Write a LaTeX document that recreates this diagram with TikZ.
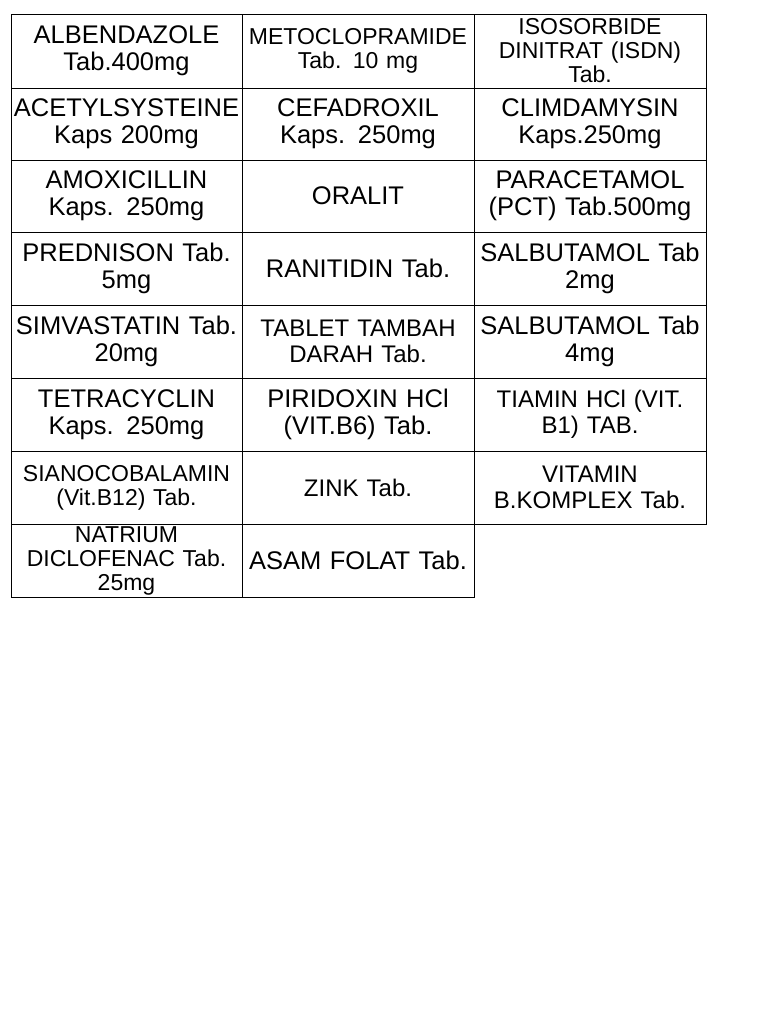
\documentclass[tikz,border=0pt]{standalone}
\usepackage{fontspec}
\setmainfont{Liberation Sans}
\begin{document}
\begin{tikzpicture}[x=1pt,y=-1pt,
  cellbox/.style={inner sep=0pt,align=center,text width=232pt,
    font=\fontsize{25.5}{27}\selectfont},
  small/.style={font=\fontsize{23}{24}\selectfont},
  mid/.style={font=\fontsize{24}{26}\selectfont}]
\useasboundingbox (0,0) rectangle (768,1024);
\def\cell#1#2#3#4#5#6#7{% name, x0,y0,x1,y1, style, text
  \path[draw=black,line width=0.8pt] (#2,#3) rectangle (#4,#5);
  \node[cellbox,#6] (#1) at ({(#2+#4)/2},{(#3+#5)/2}) {#7};}
\cell{a1}{11}{14}{242}{88}{}{ALBENDAZOLE\\Tab.400mg}
\cell{b1}{242}{14}{474}{88}{small}{METOCLOPRAMIDE\\Tab. 10 mg}
\cell{c1}{474}{14}{706}{88}{small}{ISOSORBIDE\\DINITRAT (ISDN)\\Tab.}
\cell{a2}{11}{88}{242}{160}{}{ACETYLSYSTEINE\\Kaps 200mg}
\cell{b2}{242}{88}{474}{160}{}{CEFADROXIL\\Kaps. 250mg}
\cell{c2}{474}{88}{706}{160}{}{CLIMDAMYSIN\\Kaps.250mg}
\cell{a3}{11}{160}{242}{232}{}{AMOXICILLIN\\Kaps. 250mg}
\cell{b3}{242}{160}{474}{232}{}{ORALIT}
\cell{c3}{474}{160}{706}{232}{}{PARACETAMOL\\(PCT) Tab.500mg}
\cell{a4}{11}{232}{242}{305}{}{PREDNISON Tab.\\5mg}
\cell{b4}{242}{232}{474}{305}{}{RANITIDIN Tab.}
\cell{c4}{474}{232}{706}{305}{}{SALBUTAMOL Tab\\2mg}
\cell{a5}{11}{305}{242}{378}{}{SIMVASTATIN Tab.\\20mg}
\cell{b5}{242}{305}{474}{378}{mid}{TABLET TAMBAH\\DARAH Tab.}
\cell{c5}{474}{305}{706}{378}{}{SALBUTAMOL Tab\\4mg}
\cell{a6}{11}{378}{242}{451}{}{TETRACYCLIN\\Kaps. 250mg}
\cell{b6}{242}{378}{474}{451}{}{PIRIDOXIN HCl\\(VIT.B6) Tab.}
\cell{c6}{474}{378}{706}{451}{mid}{TIAMIN HCl (VIT.\\B1) TAB.}
\cell{a7}{11}{451}{242}{524}{small}{SIANOCOBALAMIN\\(Vit.B12) Tab.}
\cell{b7}{242}{451}{474}{524}{mid}{ZINK Tab.}
\cell{c7}{474}{451}{706}{524}{mid}{VITAMIN\\B.KOMPLEX Tab.}
\cell{a8}{11}{524}{242}{597}{small}{NATRIUM\\DICLOFENAC Tab.\\25mg}
\cell{b8}{242}{524}{474}{597}{}{ASAM FOLAT Tab.}
\end{tikzpicture}
\end{document}
